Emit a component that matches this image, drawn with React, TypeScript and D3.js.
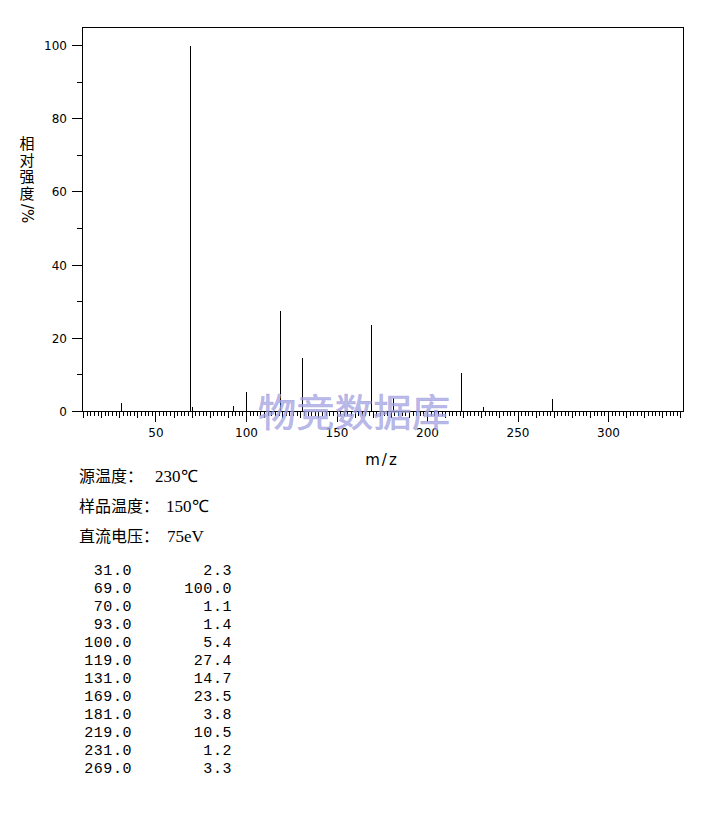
import React from "react";
import * as d3 from "d3";

const mzValues = [31, 69, 70, 93, 100, 119, 131, 169, 181, 219, 231, 269];
const intensities = [2.3, 100.0, 1.1, 1.4, 5.4, 27.4, 14.7, 23.5, 3.8, 10.5, 1.2, 3.3];
const xTickLabels = [50, 100, 150, 200, 250, 300];
const yTickLabels = [0, 20, 40, 60, 80, 100];
const yMinorTicks = [10, 30, 50, 70, 90];
const infoLabels = ["源温度：", "样品温度：", "直流电压："];
const infoValues = ["230℃", "150℃", "75eV"];
const yLabelChars = ["相", "对", "强", "度"];
const watermark = "物竞数据库";

const W = 709;
const H = 822;
const left = 82.5, right = 683.5, top = 27.5, bottom = 411.5;

export default function App() {
  const x = d3.scaleLinear().domain([9.4, 341.4]).range([left, right]);
  const y = d3.scaleLinear().domain([0, 100]).range([bottom, 45.5]);
  const minorX = d3.range(10, 342, 2);
  const crisp = (v: number) => Math.round(v - 0.5) + 0.5;
  const axisFont = "'DejaVu Sans', Verdana, sans-serif";
  const cjkFont = "'Noto Sans CJK SC', sans-serif";
  const valueX = [155, 166, 167];

  return (
    <svg width={W} height={H} style={{ position: "absolute", left: 0, top: 0, background: "#fff" }}>
      <rect x={0} y={0} width={W} height={H} fill="#fff" />
      {/* plot box */}
      <rect x={left} y={top} width={right - left} height={bottom - top} fill="none" stroke="#000" strokeWidth={1} />
      {/* peaks */}
      {mzValues.map((m, i) => (
        <line key={"p" + i} x1={crisp(x(m))} x2={crisp(x(m))} y1={y(0)} y2={y(intensities[i])} stroke="#000" strokeWidth={1} shapeRendering="crispEdges" />
      ))}
      {/* x ticks */}
      {minorX.map((v) => {
        const len = v % 50 === 0 ? 10 : v % 10 === 0 ? 6 : 4;
        return <line key={"xt" + v} x1={crisp(x(v))} x2={crisp(x(v))} y1={bottom} y2={bottom + len} stroke="#000" strokeWidth={1} shapeRendering="crispEdges" />;
      })}
      {xTickLabels.map((v) => (
        <text key={"xl" + v} x={x(v)} y={437} textAnchor="middle" fontFamily={axisFont} fontSize={12} fill="#000">{v}</text>
      ))}
      {/* y ticks */}
      <line x1={72} x2={left} y1={bottom} y2={bottom} stroke="#000" shapeRendering="crispEdges" />
      {yTickLabels.map((v) => (
        <g key={"yt" + v}>
          <line x1={72} x2={left} y1={crisp(y(v))} y2={crisp(y(v))} stroke="#000" strokeWidth={1} shapeRendering="crispEdges" />
          <text x={67} y={y(v) + 4.5} textAnchor="end" fontFamily={axisFont} fontSize={12} fill="#000">{v}</text>
        </g>
      ))}
      {yMinorTicks.map((v) => (
        <line key={"ym" + v} x1={77} x2={left} y1={crisp(y(v))} y2={crisp(y(v))} stroke="#000" strokeWidth={1} shapeRendering="crispEdges" />
      ))}
      {/* axis titles */}
      <text x={382} y={465} textAnchor="middle" fontFamily={axisFont} fontSize={15} letterSpacing={2} fill="#000">m/z</text>
      {yLabelChars.map((c, i) => (
        <text key={"yc" + i} x={27} y={149 + i * 16.5} textAnchor="middle" fontFamily={cjkFont} fontSize={15} fill="#000">{c}</text>
      ))}
      <text x={0} y={0} transform={`translate(22, 204) rotate(90)`} fontFamily={axisFont} fontSize={15} fill="#000">/%</text>
      {/* watermark */}
      <text x={258} y={426} fontFamily={cjkFont} fontSize={38} fill="#a4a4e2" fillOpacity={0.75} stroke="#a4a4e2" strokeOpacity={0.75} strokeWidth={0.7} letterSpacing={0.5}>{watermark}</text>
      {/* info block */}
      {infoLabels.map((l, i) => (
        <g key={"info" + i}>
          <text x={79} y={482 + i * 30} fontFamily={cjkFont} fontSize={16} fill="#000">{l}</text>
          <text x={valueX[i]} y={482 + i * 30} fontFamily="'Liberation Serif', 'Times New Roman', serif" fontSize={17} fill="#000">{infoValues[i]}</text>
        </g>
      ))}
      {/* peak table */}
      {mzValues.map((m, i) => (
        <g key={"row" + i} fontFamily="'Liberation Mono', 'Courier New', monospace" fontSize={15} fill="#000">
          <text x={132} y={575 + i * 18} textAnchor="end" letterSpacing={0.55}>{m.toFixed(1)}</text>
          <text x={232} y={575 + i * 18} textAnchor="end" letterSpacing={0.55}>{intensities[i].toFixed(1)}</text>
        </g>
      ))}
    </svg>
  );
}
